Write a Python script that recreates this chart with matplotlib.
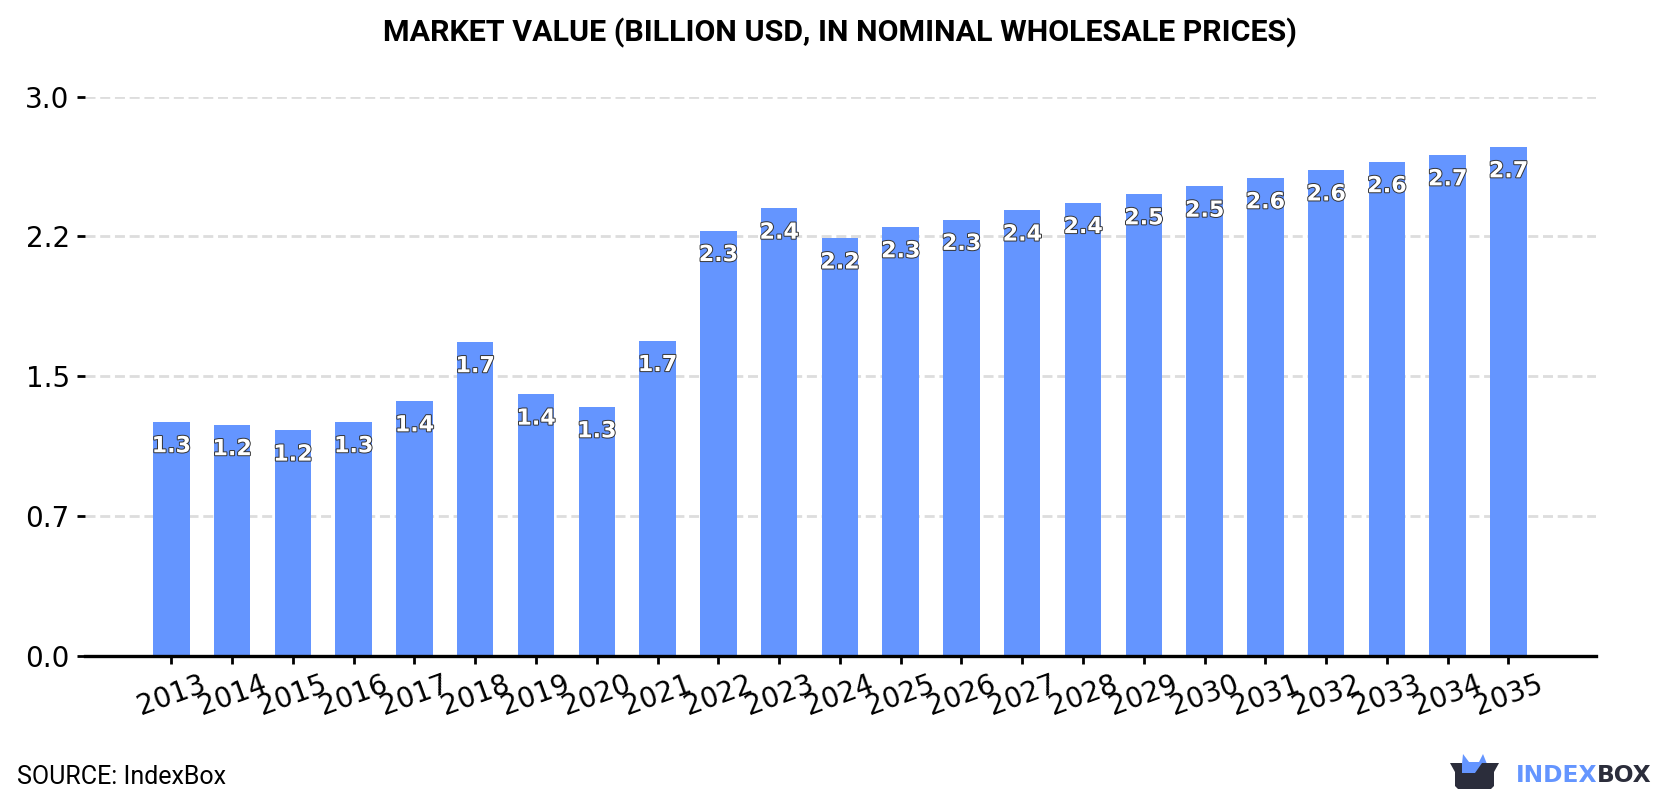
import matplotlib
matplotlib.use("Agg")
import matplotlib.pyplot as plt
import matplotlib.patheffects as pe
from matplotlib.patches import Polygon

years = list(range(2013, 2036))
values = [1.255, 1.239, 1.21, 1.255, 1.367, 1.684, 1.403, 1.335, 1.69, 2.28, 2.40, 2.24,
          2.30, 2.34, 2.39, 2.43, 2.477, 2.518, 2.563, 2.605, 2.649, 2.686, 2.729]
y_ticks = [0.0, 0.75, 1.5, 2.25, 3.0]
y_tick_labels = ["0.0", "0.7", "1.5", "2.2", "3.0"]

BLUE = "#6495ff"
DARK = "#2b2d3b"

W, H = 1680, 800
fig = plt.figure(figsize=(W / 100, H / 100), dpi=100)
ax = fig.add_axes([85 / W, 1 - 656 / H, (1596 - 85) / W, (656 - 96.5) / H])

# gridlines sit behind the bars
ax.set_axisbelow(True)
ax.yaxis.grid(True, color="#dddddd", linewidth=2, linestyle=(0, (3.6, 1.7)))

ax.bar(years, values, width=0.6, color=BLUE)

# value labels inside the top of each bar
for year, val in zip(years, values):
    ax.annotate(f"{val:.1f}", (year, val), xytext=(0, -17.5), textcoords="offset points",
                ha="center", va="center", color="white", fontsize=16, fontweight="bold",
                path_effects=[pe.withStroke(linewidth=1.4, foreground="#333333")])

ax.set_xlim(2013 - 1.42, 2013 + 23.44)
ax.set_ylim(0, 3.0)
ax.set_xticks(years)
ax.set_xticklabels(years, rotation=20, ha="center", fontsize=20)
ax.set_yticks(y_ticks)
ax.set_yticklabels(y_tick_labels, fontsize=20)
ax.tick_params(axis="both", length=6, width=2)
ax.tick_params(axis="x", pad=4)
ax.tick_params(axis="y", pad=5)

for side in ["top", "right", "left"]:
    ax.spines[side].set_visible(False)
ax.spines["bottom"].set_linewidth(2.4)

fig.text(840 / W, 1 - 33 / H, "MARKET VALUE (BILLION USD, IN NOMINAL WHOLESALE PRICES)",
         ha="center", va="center", family="Roboto", fontweight="bold", fontsize=21.9, color="black")
fig.text(17 / W, 1 - 784 / H, "SOURCE: IndexBox", ha="left", va="baseline",
         family="Roboto", fontsize=18, color="black")

# logo, laid out in figure pixels
logo = fig.add_axes([0, 0, 1, 1], facecolor="none")
logo.set_xlim(0, W)
logo.set_ylim(H, 0)
logo.axis("off")
logo.add_patch(Polygon([(1462, 764), (1463, 754), (1469, 762), (1479, 762), (1483, 754), (1487, 764),
                        (1480, 773), (1462, 773)], closed=True, color=BLUE, lw=0))
logo.add_patch(Polygon([(1450, 763), (1462, 763), (1462, 773), (1475, 773), (1482, 763), (1499, 763),
                        (1494, 772), (1494, 786), (1491, 789), (1458, 789), (1455, 786), (1455, 772)],
                       closed=True, color=DARK, lw=0))
logo.text(1516, 782, "INDEX", fontweight="bold", fontsize=16.8, color=BLUE, ha="left", va="baseline")
logo.text(1597, 782, "BOX", fontweight="bold", fontsize=16.8, color=DARK, ha="left", va="baseline")

fig.savefig("out.png", dpi=100)
